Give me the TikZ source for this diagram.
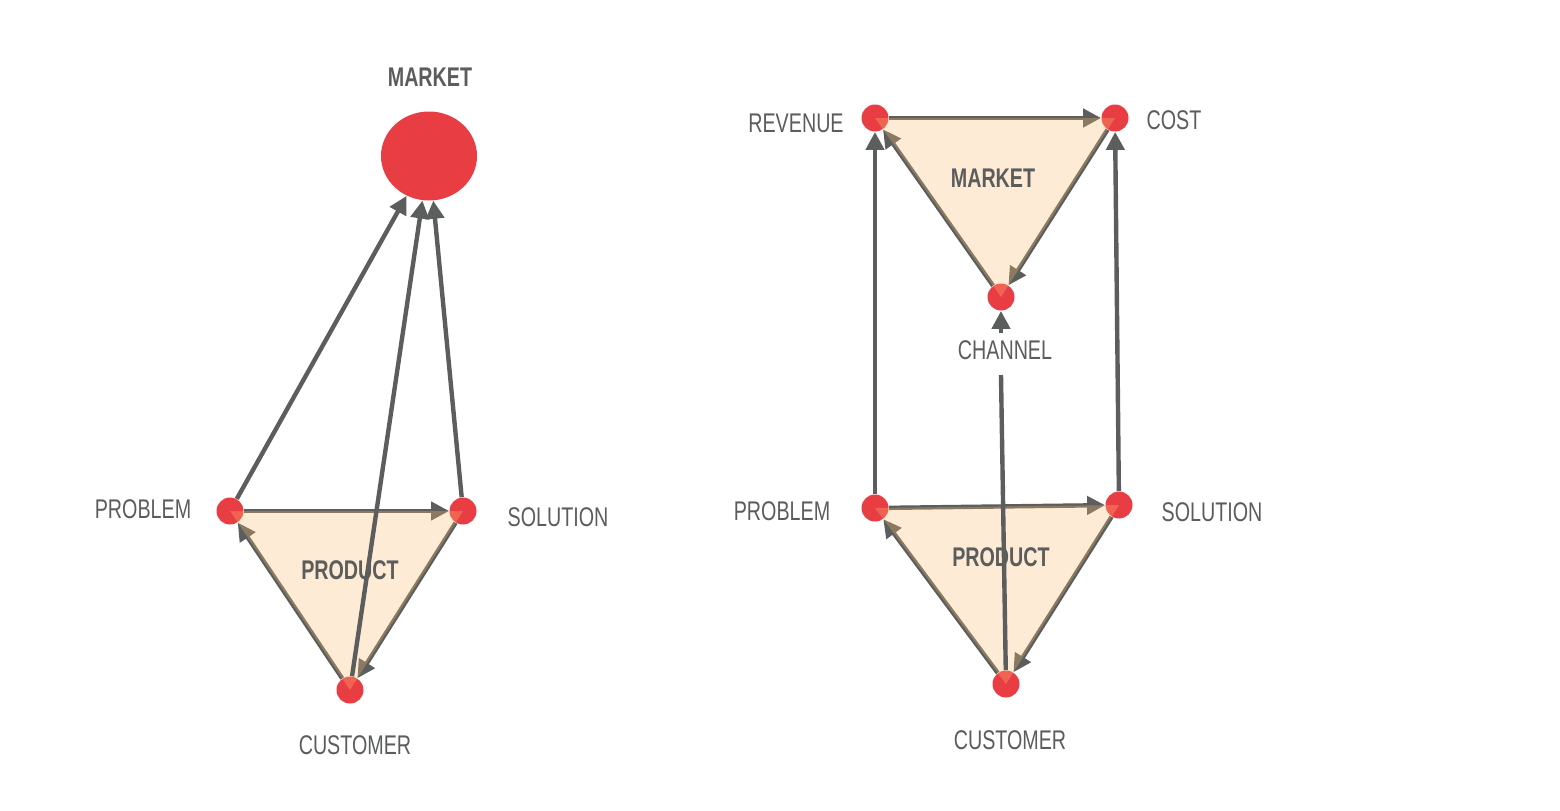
\documentclass[tikz,border=0pt]{standalone}
\usepackage{fontspec}
\setmainfont{Liberation Sans}[FakeStretch=0.73]
\usetikzlibrary{arrows.meta,shapes.geometric,positioning}
\definecolor{dotred}{HTML}{E93D44}
\definecolor{linegrey}{HTML}{5B5E5C}
\definecolor{txtgrey}{HTML}{5B5D5C}
\definecolor{tint}{RGB}{253,188,115}

\begin{document}
\begin{tikzpicture}
  [x=0.5pt,y=-0.5pt,
   dot/.style={circle,fill=dotred,inner sep=0pt,minimum size=13.5pt},
   big dot/.style={ellipse,fill=dotred,inner sep=0pt,minimum width=48pt,minimum height=44.5pt},
   link/.style={draw=linegrey,line width=2.2pt,-{Triangle[length=9pt,width=9pt]}},
   plain link/.style={draw=linegrey,line width=2.2pt},
   tag/.style={inner sep=0pt,text=txtgrey,font=\fontsize{13.5}{16}\selectfont},
   title/.style={tag,font=\fontsize{13.5}{16}\selectfont\bfseries},
   tri/.style={fill=tint,fill opacity=0.3}]

  \useasboundingbox (0,0) rectangle (1560,810);

  \begin{scope}
    % Left: product triangle feeding the market
    \node [big dot] (mkt)   at (429,156) {};
    \node [dot]     (prob1) at (230,511) {};
    \node [dot]     (solu1) at (463,511) {};
    \node [dot]     (cust1) at (350,690) {};

    \draw [link] (prob1) -- (mkt);
    \draw [link] (solu1) -- (mkt);
    \draw [link] (prob1) -- (solu1);
    \draw [link] (solu1) -- (cust1);
    \draw [link] (cust1) -- (prob1);

    \fill [tri] (prob1.center) -- (solu1.center) -- (cust1.center) -- cycle;

    \draw [link] (cust1) -- (mkt);

    \node [title] (mktlbl)  at (430,77)  {MARKET};
    \node [tag]   (problbl1) at (143,509) {PROBLEM};
    \node [tag]   (solulbl1) at (558,517) {SOLUTION};
    \node [tag]   (custlbl1) at (355,745) {CUSTOMER};
    \node [title] (prodlbl1) at (350,570) {PRODUCT};
  \end{scope}

  \begin{scope}
    % Right: market triangle above product triangle
    \node [dot] (rev)   at (875,118)  {};
    \node [dot] (cost)  at (1115,118) {};
    \node [dot] (chan)  at (1001,297) {};
    \node [dot] (prob2) at (875,508)  {};
    \node [dot] (solu2) at (1119,505) {};
    \node [dot] (cust2) at (1006,684) {};

    \node [tag] (chanlbl) at (1005,350) {CHANNEL};
    \coordinate (chanin)  at (1001,375);
    \coordinate (chanout) at (1001,333);

    \draw [link] (rev)   -- (cost);
    \draw [link] (cost)  -- (chan);
    \draw [link] (chan)  -- (rev);
    \draw [link] (prob2) -- (rev);
    \draw [link] (solu2) -- (cost);
    \draw [link] (chanout) -- (chan);
    \draw [link] (prob2) -- (solu2);
    \draw [link] (solu2) -- (cust2);
    \draw [link] (cust2) -- (prob2);

    \fill [tri] (rev.center) -- (cost.center) -- (chan.center) -- cycle;
    \fill [tri] (prob2.center) -- (solu2.center) -- (cust2.center) -- cycle;

    \draw [plain link] (cust2) -- (chanin);

    \node [tag]   (revlbl)   at (796,123)  {REVENUE};
    \node [tag]   (costlbl)  at (1174,120) {COST};
    \node [title] (mktlbl2)  at (993,178)  {MARKET};
    \node [tag]   (problbl2) at (782,511)  {PROBLEM};
    \node [tag]   (solulbl2) at (1212,512) {SOLUTION};
    \node [title] (prodlbl2) at (1001,557) {PRODUCT};
    \node [tag]   (custlbl2) at (1010,740) {CUSTOMER};
  \end{scope}

\end{tikzpicture}
\end{document}
